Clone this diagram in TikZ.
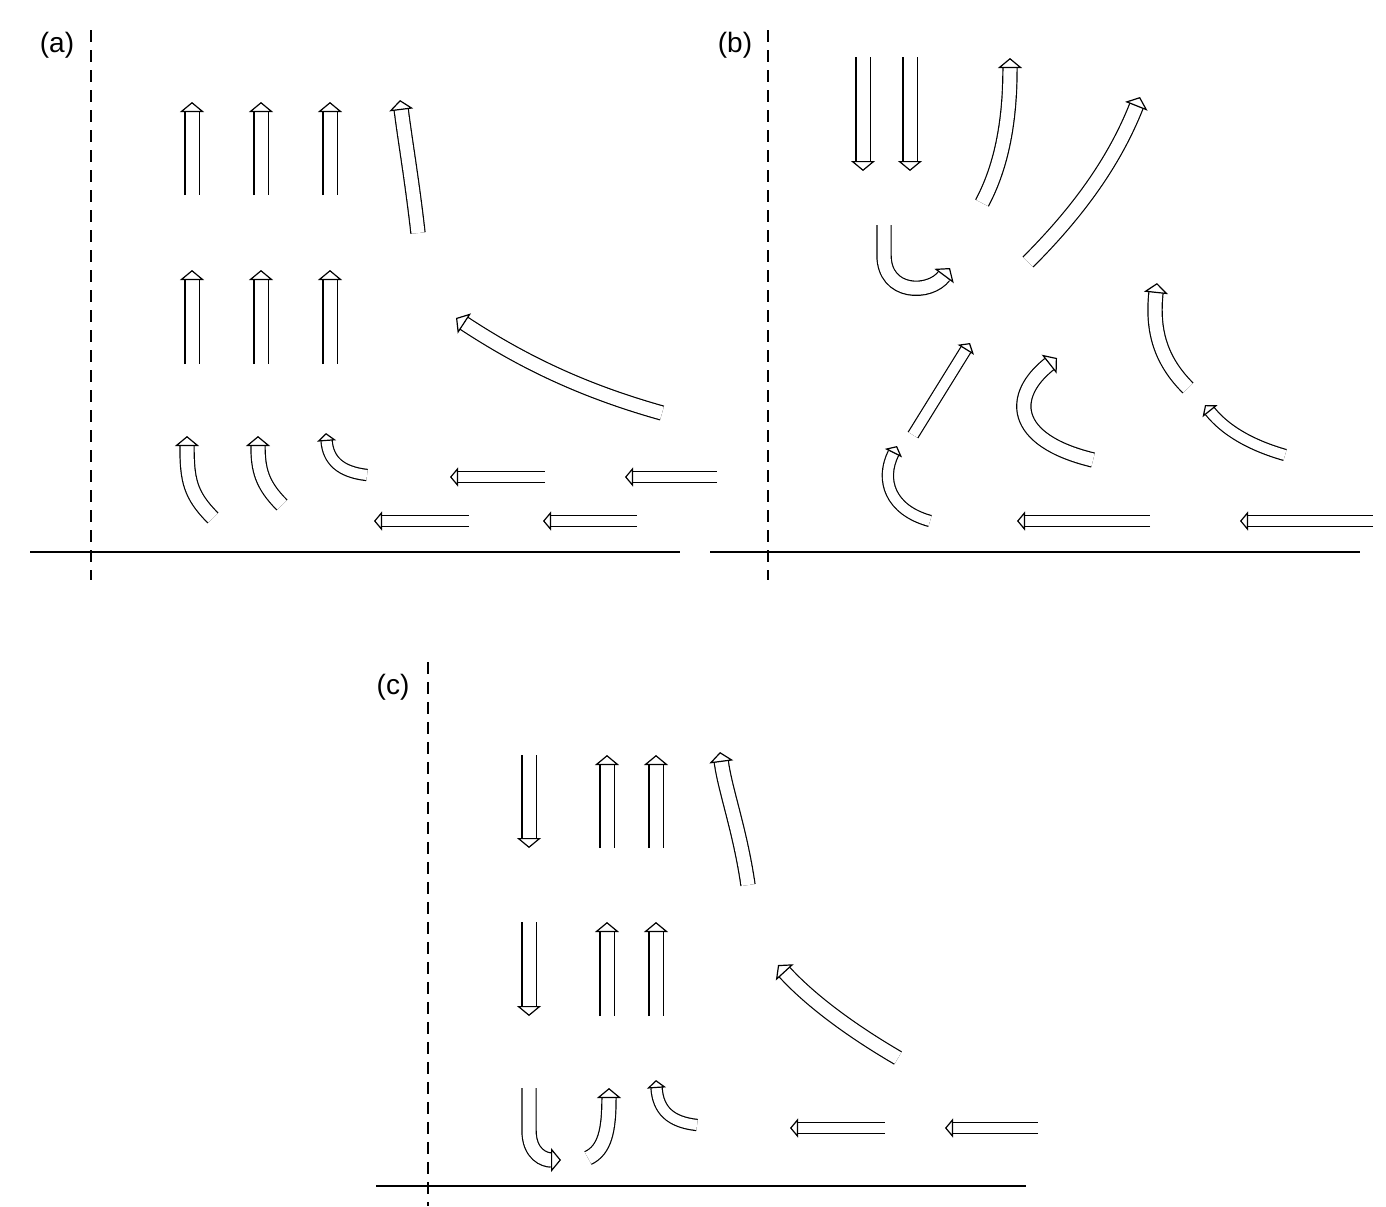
\documentclass[tikz,border=0pt]{standalone}
\usepackage{fontspec}
\setmainfont{Liberation Sans}
\usetikzlibrary{arrows.meta}
\begin{document}
\begin{tikzpicture}[x=0.5pt,y=-0.5pt,
  fa/.style={line width=0.6pt,double=white,double distance=6.5pt,-{Triangle[open,length=5pt,width=12pt]}},
  fas/.style={fa,double distance=5pt,-{Triangle[open,length=4pt,width=9.5pt]}},
  axis/.style={line width=1pt},
  dashax/.style={line width=1pt,dash pattern=on 6pt off 4pt},
  lab/.style={font=\fontsize{14}{14}\selectfont}]
\useasboundingbox (0,0) rectangle (1386,1206);
% (a)
\node[lab] (la) at (57,45) {(a)};
\coordinate (ad1) at (91,30); \coordinate (ad2) at (91,580);
\draw[dashax] (ad1) -- (ad2);
\coordinate (ah1) at (30,552); \coordinate (ah2) at (680,552);
\draw[axis] (ah1) -- (ah2);
\foreach \x in {192,261,330}{\draw[fa] (\x,195) -- (\x,102); \draw[fa] (\x,364) -- (\x,270);}
\draw[fa] (418,233) .. controls (412,180) and (405,140) .. (400,100);
\draw[fa] (662,413) .. controls (580,390) and (520,360) .. (456,318);
\draw[fa] (213,518) .. controls (190,495) and (187,480) .. (187,436);
\draw[fa] (282,505) .. controls (262,485) and (258,470) .. (258,436);
\draw[fas] (367,475) .. controls (340,472) and (328,460) .. (326,433);
\draw[fas] (545,477) -- (450,477);
\draw[fas] (717,477) -- (625,477);
\draw[fas] (469,521) -- (374,521);
\draw[fas] (637,521) -- (543,521);
% (b)
\node[lab] (lb) at (735,45) {(b)};
\coordinate (bd1) at (768,30); \coordinate (bd2) at (768,580);
\draw[dashax] (bd1) -- (bd2);
\coordinate (bh1) at (710,552); \coordinate (bh2) at (1360,552);
\draw[axis] (bh1) -- (bh2);
\draw[fa] (863,57) -- (863,171);
\draw[fa] (910,57) -- (910,171);
\draw[fa] (982,203) .. controls (1005,160) and (1010,110) .. (1010,58);
\draw[fa] (1028,262) .. controls (1080,210) and (1115,160) .. (1140,97);
\draw[fa] (884,225) -- (884,255) .. controls (884,295) and (930,295) .. (950,268);
\draw[fas] (913,435) -- (970,343);
\draw[fa] (1093,460) .. controls (1010,440) and (1010,395) .. (1057,358);
\draw[fa] (1188,388) .. controls (1160,360) and (1152,330) .. (1157,283);
\draw[fas] (1285,455) .. controls (1250,445) and (1225,430) .. (1205,405);
\draw[fas] (930,521) .. controls (890,510) and (880,480) .. (897,446);
\draw[fas] (1150,521) -- (1017,521);
\draw[fas] (1373,521) -- (1240,521);
% (c)
\node[lab] (lc) at (393,687) {(c)};
\coordinate (cd1) at (428,662); \coordinate (cd2) at (428,1206);
\draw[dashax] (cd1) -- (cd2);
\coordinate (ch1) at (376,1186); \coordinate (ch2) at (1026,1186);
\draw[axis] (ch1) -- (ch2);
\draw[fa] (529,755) -- (529,848);
\draw[fa] (607,848) -- (607,755);
\draw[fa] (656,848) -- (656,755);
\draw[fa] (748,885) .. controls (740,830) and (725,790) .. (720,752);
\draw[fa] (529,922) -- (529,1016);
\draw[fa] (607,1016) -- (607,922);
\draw[fa] (656,1016) -- (656,922);
\draw[fa] (898,1058) .. controls (850,1030) and (810,1000) .. (778,965);
\draw[fa] (529,1088) -- (529,1130) .. controls (529,1155) and (545,1160) .. (561,1160);
\draw[fa] (588,1158) .. controls (605,1150) and (609,1130) .. (609,1088);
\draw[fas] (697,1125) .. controls (670,1122) and (658,1110) .. (656,1080);
\draw[fas] (885,1128) -- (790,1128);
\draw[fas] (1038,1128) -- (945,1128);
\end{tikzpicture}
\end{document}
